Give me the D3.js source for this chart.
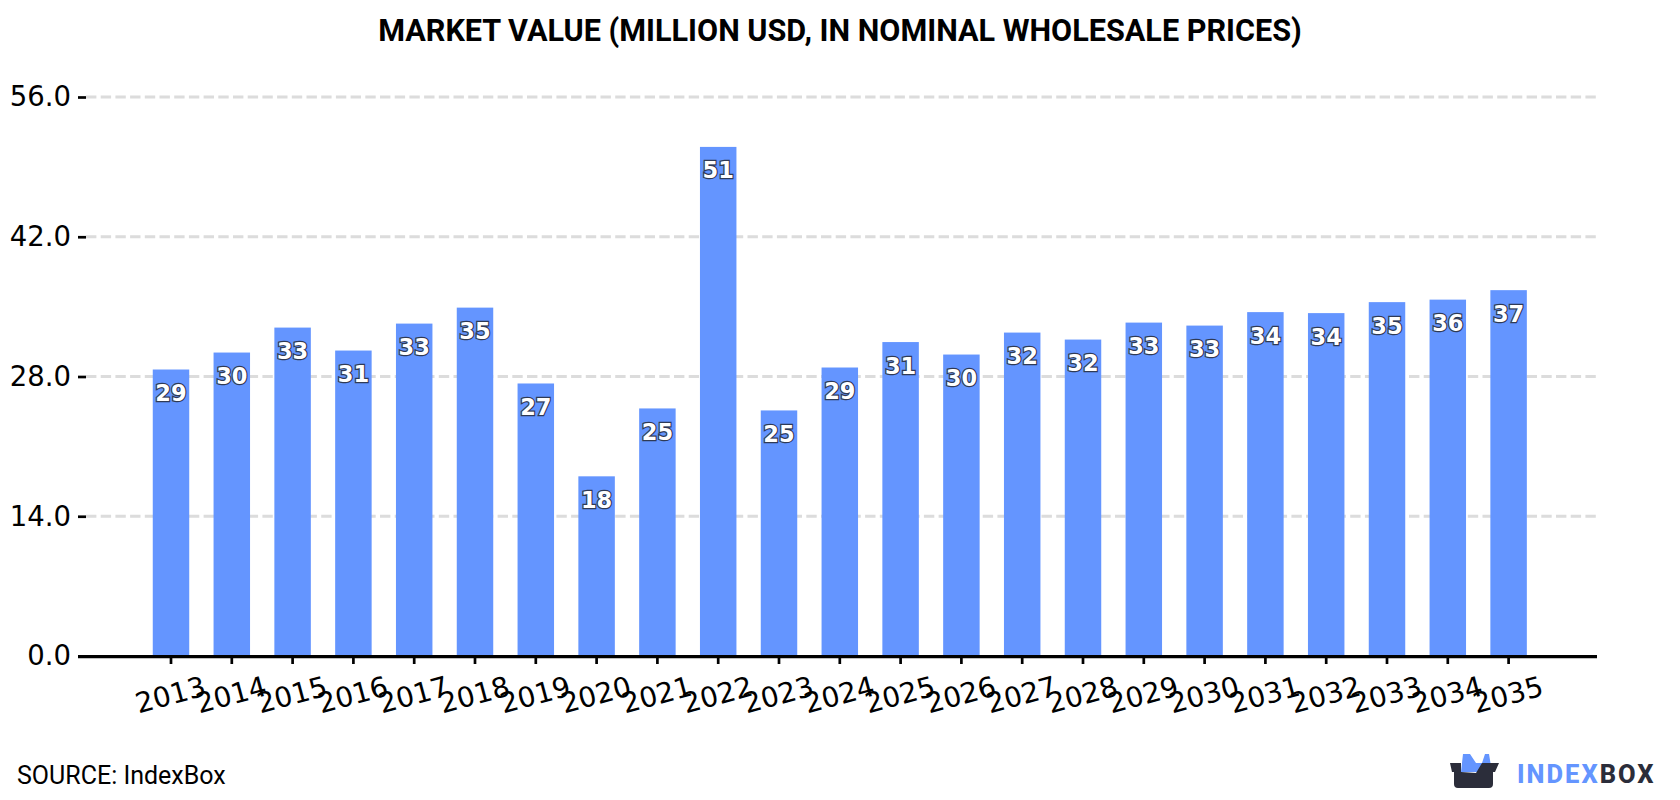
<!DOCTYPE html>
<html>
<head>
<meta charset="utf-8">
<script src="https://cdn.jsdelivr.net/npm/d3@7"></script>
<style>
  html, body { margin: 0; background: #fff; }
  svg { display: block; }
</style>
</head>
<body>
<svg id="chart" width="1680" height="800"></svg>
<script>
const years = ["2013","2014","2015","2016","2017","2018","2019","2020","2021","2022","2023","2024","2025","2026","2027","2028","2029","2030","2031","2032","2033","2034","2035"];
const marketValue = [28.7,30.4,32.9,30.6,33.3,34.9,27.3,18.0,24.8,51.0,24.6,28.9,31.45,30.2,32.4,31.7,33.4,33.1,34.45,34.35,35.45,35.7,36.65];
const yTicks = [0,14,28,42,56];
const titleText = "MARKET VALUE (MILLION USD, IN NOMINAL WHOLESALE PRICES)";

const svg = d3.select("#chart");
const x = d3.scaleBand().domain(years).range([140.6, 1539]).paddingInner(0.4).paddingOuter(0.2);
const y = d3.scaleLinear().domain([0, 56]).range([656, 97]);
const axisLeft = 78, axisRight = 1597, tickFont = "'DejaVu Sans'";

svg.append("text").attr("x", 840).attr("y", 41).attr("text-anchor", "middle")
  .style("font", "700 30.6px Roboto").attr("fill", "#000").text(titleText);

// Dashed horizontal gridlines sit behind the bars
svg.append("g").selectAll("line").data(yTicks.filter(d => d > 0)).join("line")
  .attr("x1", axisLeft + 8).attr("x2", axisRight)
  .attr("y1", d => y(d)).attr("y2", d => y(d))
  .attr("stroke", "#dcdcdc").attr("stroke-width", 3).attr("stroke-dasharray", "10.4 4.3");

svg.append("g").selectAll("rect").data(years).join("rect")
  .attr("x", d => x(d)).attr("width", x.bandwidth())
  .attr("y", (d, i) => y(marketValue[i]))
  .attr("height", (d, i) => y(0) - y(marketValue[i]))
  .attr("fill", "#6495ff");

// Y axis: short ticks and one-decimal labels
const yAxis = svg.append("g").attr("transform", `translate(${axisLeft + 8},0)`)
  .call(d3.axisLeft(y).tickValues(yTicks).tickFormat(d3.format(".1f")).tickSize(8).tickPadding(7));
yAxis.select(".domain").remove();
yAxis.selectAll("line").attr("stroke", "#000").attr("stroke-width", 2.7);
yAxis.selectAll("text").style("font", `27.5px ${tickFont}`).attr("fill", "#000");

// X axis: baseline spans the plot, labels rotated about their centres
const xAxis = svg.append("g").attr("transform", `translate(0,${y(0)})`)
  .call(d3.axisBottom(x).tickSize(8).tickSizeOuter(0));
xAxis.select(".domain").remove();
xAxis.selectAll("line").attr("stroke", "#000").attr("stroke-width", 2.7);
xAxis.selectAll("text")
  .style("font", `28px ${tickFont}`).attr("fill", "#000")
  .attr("text-anchor", "middle").attr("dy", null)
  .attr("transform", "translate(-0.5,39) rotate(-15)").attr("y", 0).attr("dominant-baseline", "central");
svg.append("line").attr("x1", axisLeft).attr("x2", axisRight)
  .attr("y1", y(0) + 0.7).attr("y2", y(0) + 0.7).attr("stroke", "#000").attr("stroke-width", 3.2);

// Value labels: white bold digits with a dark outline
svg.append("g").selectAll("text").data(years).join("text")
  .attr("x", d => x(d) + x.bandwidth() / 2)
  .attr("y", (d, i) => y(marketValue[i]) + 31.5)
  .attr("text-anchor", "middle")
  .style("font", `700 22.5px ${tickFont}`)
  .attr("fill", "#fff").attr("stroke", "#2f3a55").attr("stroke-width", 2.4)
  .attr("paint-order", "stroke")
  .text((d, i) => d3.format(".0f")(marketValue[i]));

svg.append("text").attr("x", 17).attr("y", 784)
  .style("font", "25px Roboto").attr("fill", "#000").text("SOURCE: IndexBox");

// Brand mark: open box with a blue shape rising out of it, then the wordmark
const logo = svg.append("g");
logo.append("path").attr("fill", "#6495ff")
  .attr("d", "M1461 772L1463 754L1470 754L1476 763L1482 763L1485 754L1484 754L1483 754L1489 754L1492 772Z");
logo.append("path").attr("fill", "#2b2d3a")
  .attr("d", "M1450 763L1461 763L1461 772L1476 773L1482 763L1499 763L1495 772L1493 772L1493 784Q1493 788 1489 788L1458 788Q1454 788 1454 784L1454 772L1452 772Z");
logo.append("text").attr("x", 1517).attr("y", 783)
  .style("font", "800 25.5px Roboto").style("letter-spacing", "2px")
  .call(t => {
    t.append("tspan").attr("fill", "#6495ff").text("INDEX");
    t.append("tspan").attr("fill", "#2b2d3a").text("BOX");
  });
</script>
</body>
</html>
